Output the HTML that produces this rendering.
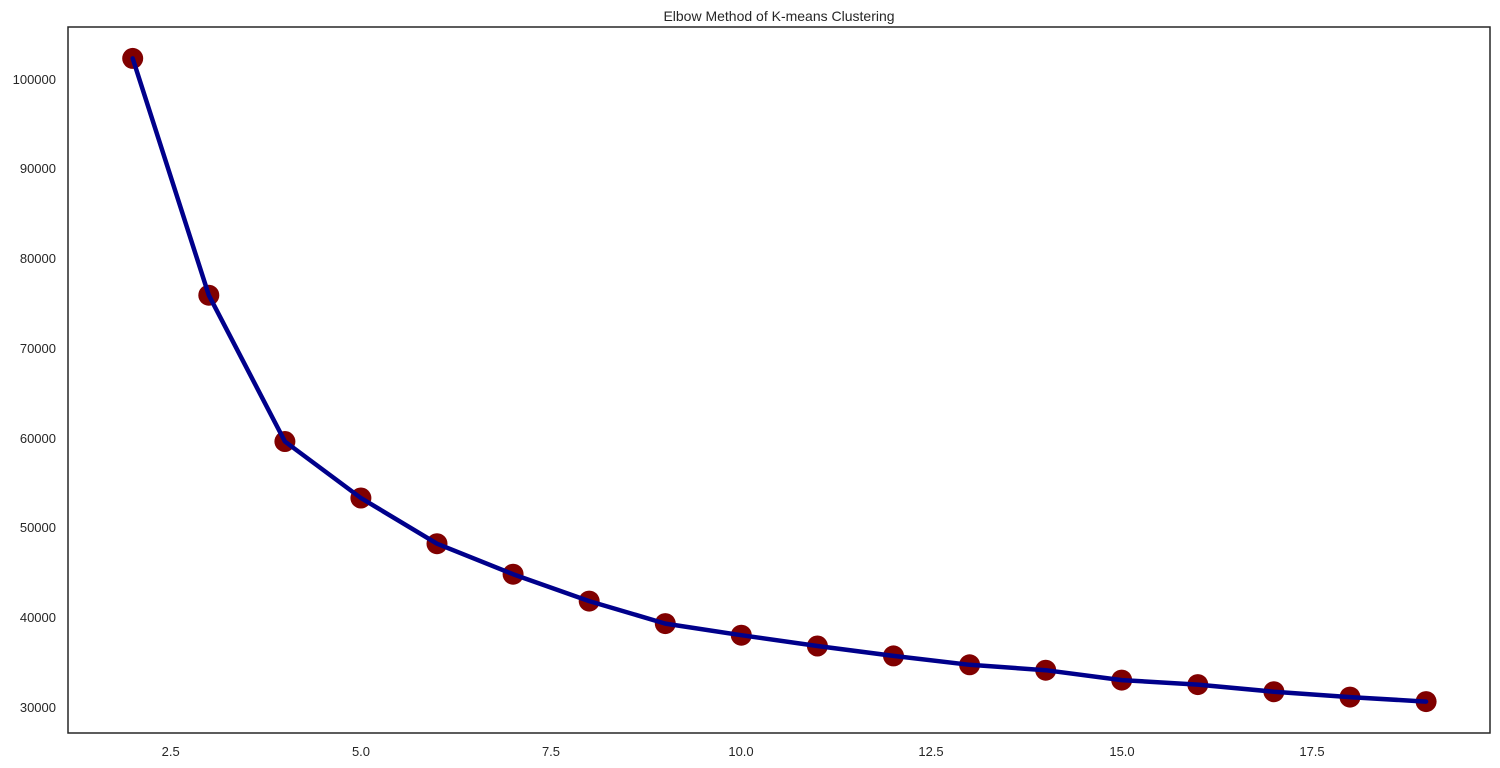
<!DOCTYPE html>
<html><head><meta charset="utf-8"><style>body{margin:0;background:#fff}svg{display:block}text{font-family:"Liberation Sans",sans-serif;fill:#262626}</style></head><body>
<svg width="1500" height="768" xmlns="http://www.w3.org/2000/svg">
<rect width="1500" height="768" fill="#fff"/>
<text x="779" y="21" font-size="14" text-anchor="middle">Elbow Method of K-means Clustering</text>
<g fill="#800000">
<circle cx="132.7" cy="58.4" r="10.5"/><circle cx="208.8" cy="295.2" r="10.5"/><circle cx="284.9" cy="441.5" r="10.5"/><circle cx="360.9" cy="498.0" r="10.5"/><circle cx="437.0" cy="543.7" r="10.5"/><circle cx="513.1" cy="574.2" r="10.5"/><circle cx="589.2" cy="601.1" r="10.5"/><circle cx="665.3" cy="623.6" r="10.5"/><circle cx="741.3" cy="635.2" r="10.5"/><circle cx="817.4" cy="646.0" r="10.5"/><circle cx="893.5" cy="655.9" r="10.5"/><circle cx="969.6" cy="664.8" r="10.5"/><circle cx="1045.7" cy="670.2" r="10.5"/><circle cx="1121.7" cy="680.1" r="10.5"/><circle cx="1197.8" cy="684.6" r="10.5"/><circle cx="1273.9" cy="691.7" r="10.5"/><circle cx="1350.0" cy="697.1" r="10.5"/><circle cx="1426.1" cy="701.6" r="10.5"/>
</g>
<polyline fill="none" stroke="#00008b" stroke-width="4.5" stroke-linejoin="round" stroke-linecap="round" points="132.7,58.4 208.8,295.2 284.9,441.5 360.9,498.0 437.0,543.7 513.1,574.2 589.2,601.1 665.3,623.6 741.3,635.2 817.4,646.0 893.5,655.9 969.6,664.8 1045.7,670.2 1121.7,680.1 1197.8,684.6 1273.9,691.7 1350.0,697.1 1426.1,701.6"/>
<rect x="68" y="27" width="1422" height="706" fill="none" stroke="#262626" stroke-width="1.5"/>
<g font-size="13" text-anchor="end">
<text x="56" y="712">30000</text><text x="56" y="622">40000</text><text x="56" y="532">50000</text><text x="56" y="443">60000</text><text x="56" y="353">70000</text><text x="56" y="263">80000</text><text x="56" y="173">90000</text><text x="56" y="84">100000</text>
</g>
<g font-size="13" text-anchor="middle">
<text x="170.7" y="756">2.5</text><text x="361" y="756">5.0</text><text x="551" y="756">7.5</text><text x="741" y="756">10.0</text><text x="931" y="756">12.5</text><text x="1122" y="756">15.0</text><text x="1312" y="756">17.5</text>
</g>
</svg>
</body></html>
